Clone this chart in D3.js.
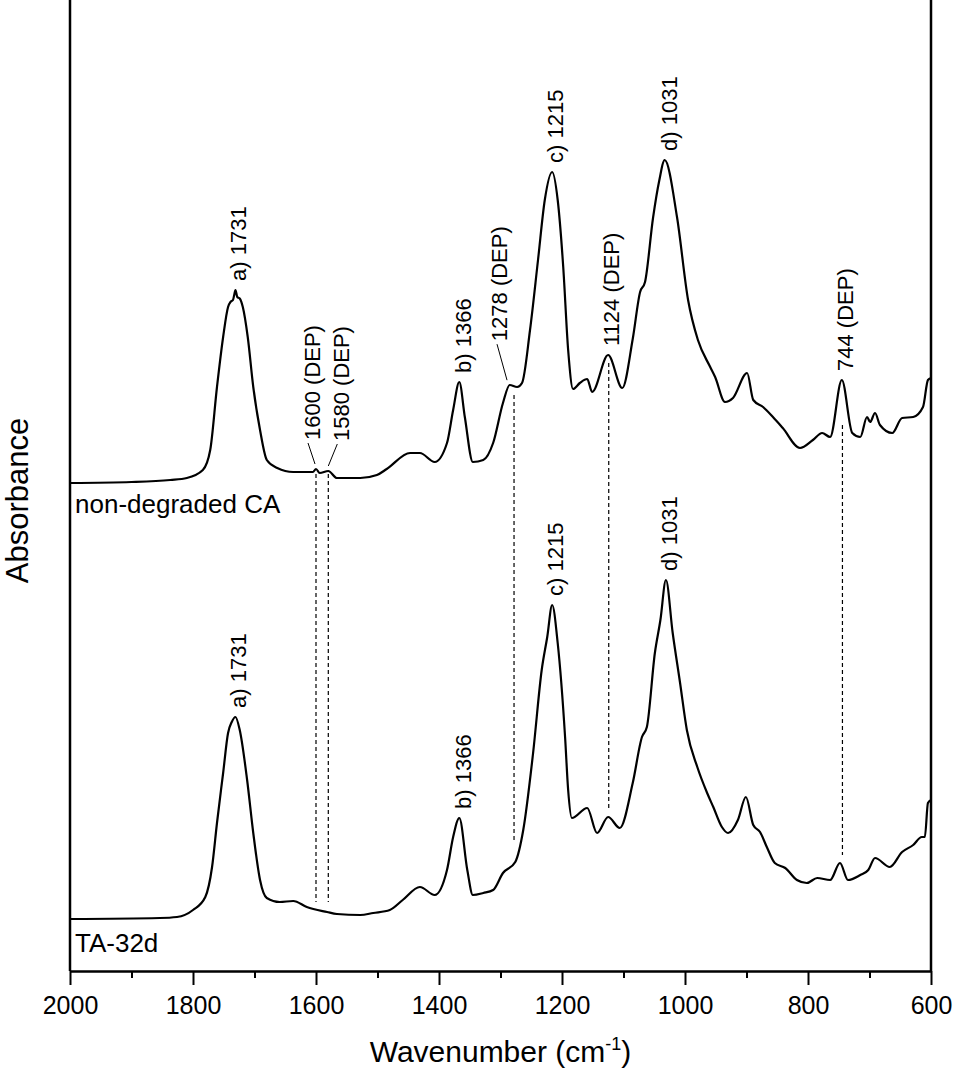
<!DOCTYPE html>
<html>
<head>
<meta charset="utf-8">
<script src="https://cdn.jsdelivr.net/npm/d3@7"></script>
<style>
  body { margin: 0; background: #fff; }
  text { font-family: "Liberation Sans", Arial, sans-serif; fill: #000; }
</style>
</head>
<body>
<div id="chart"></div>
<script>
// spectra (wavenumber in cm-1, absorbance in arbitrary stacked units)
var wnUpper = [2000, 1900, 1837, 1810, 1784, 1772, 1761, 1751, 1743, 1739, 1735, 1733, 1731, 1728, 1724, 1719, 1711, 1702, 1691, 1680,
  1663, 1637, 1605, 1600, 1594, 1580, 1566, 1528, 1501, 1485, 1447, 1431, 1407, 1387, 1377, 1367, 1358, 1345, 1328, 1312,
  1296, 1285, 1273, 1265, 1252, 1239, 1228, 1216, 1207, 1198, 1190, 1182, 1171, 1159, 1151, 1125, 1102, 1085, 1073, 1065,
  1052, 1042, 1033, 1013, 995, 979, 959, 951, 935, 922, 899, 889, 873, 857, 841, 813, 792, 777, 764, 745,
  728, 715, 704, 699, 691, 683, 663, 647, 629, 613, 605, 600];
var absUpper = [0.976, 0.978, 0.982, 0.986, 1.002, 1.042, 1.168, 1.268, 1.328, 1.338, 1.342, 1.352, 1.362, 1.348, 1.345, 1.328, 1.268, 1.168, 1.082, 1.022,
  1.006, 0.998, 0.998, 1.004, 0.996, 1.000, 0.986, 0.986, 0.992, 1.004, 1.036, 1.036, 1.018, 1.056, 1.122, 1.178, 1.108, 1.018, 1.022, 1.056,
  1.136, 1.172, 1.168, 1.176, 1.282, 1.422, 1.542, 1.598, 1.542, 1.408, 1.242, 1.164, 1.176, 1.184, 1.158, 1.232, 1.166, 1.264, 1.358, 1.378,
  1.506, 1.580, 1.622, 1.508, 1.342, 1.262, 1.208, 1.188, 1.138, 1.146, 1.196, 1.142, 1.128, 1.108, 1.086, 1.046, 1.062, 1.076, 1.068, 1.182,
  1.076, 1.068, 1.108, 1.098, 1.116, 1.092, 1.076, 1.106, 1.108, 1.128, 1.182, 1.186];

var wnLower = [2000, 1854, 1826, 1800, 1780, 1769, 1761, 1751, 1743, 1737, 1731, 1724, 1712, 1702, 1691, 1680, 1659, 1637, 1615, 1582,
  1566, 1528, 1507, 1480, 1459, 1431, 1407, 1387, 1377, 1367, 1354, 1345, 1328, 1312, 1296, 1276, 1263, 1247, 1233, 1224,
  1216, 1207, 1195, 1190, 1184, 1159, 1143, 1125, 1106, 1085, 1070, 1062, 1049, 1040, 1031, 1020, 1008, 997, 980, 964,
  954, 940, 930, 914, 901, 889, 878, 867, 854, 837, 818, 802, 785, 764, 748, 735, 715, 702, 691, 667,
  647, 629, 615, 610, 605, 600];
var absLower = [0.104, 0.106, 0.108, 0.122, 0.148, 0.208, 0.296, 0.396, 0.476, 0.498, 0.508, 0.482, 0.382, 0.276, 0.182, 0.146, 0.138, 0.140, 0.128, 0.118,
  0.114, 0.112, 0.116, 0.122, 0.142, 0.168, 0.152, 0.202, 0.268, 0.306, 0.202, 0.152, 0.156, 0.162, 0.196, 0.218, 0.282, 0.436, 0.602, 0.668,
  0.732, 0.656, 0.468, 0.362, 0.306, 0.326, 0.276, 0.308, 0.286, 0.376, 0.468, 0.488, 0.636, 0.702, 0.782, 0.676, 0.576, 0.482, 0.408, 0.356,
  0.328, 0.288, 0.276, 0.302, 0.348, 0.292, 0.278, 0.248, 0.216, 0.206, 0.182, 0.176, 0.186, 0.182, 0.216, 0.182, 0.192, 0.202, 0.226, 0.208,
  0.238, 0.252, 0.268, 0.268, 0.336, 0.342];

var seriesNames = ["non-degraded CA", "TA-32d"];

// peak annotations
var upperPeakText = ["a) 1731", "b) 1366", "c) 1215", "1124 (DEP)", "d) 1031", "744 (DEP)"];
var upperPeakWn = [1731, 1366, 1215, 1124, 1031, 744];
var lowerPeakText = ["a) 1731", "b) 1366", "c) 1215", "d) 1031"];
var lowerPeakWn = [1731, 1366, 1215, 1031];
var leaderText = ["1600 (DEP)", "1580 (DEP)", "1278 (DEP)"];
var leaderWn = [1600, 1580, 1278];

// dashed guide lines between the two spectra
var dashWn = [1600, 1580, 1278, 1124, 744];
var dashTop = [0.994, 0.994, 1.152, 1.216, 1.092];
var dashBottom = [0.138, 0.138, 0.256, 0.322, 0.232];

var majorTicks = [2000, 1800, 1600, 1400, 1200, 1000, 800, 600];
var minorTicks = [1900, 1700, 1500, 1300, 1100, 900, 700];

var svgWidth = 953;
var svgHeight = 1074;
var margin = { top: 0, right: 22, bottom: 103, left: 70 };
var width = svgWidth - margin.left - margin.right;
var height = svgHeight - margin.top - margin.bottom;

var svg = d3.select("#chart")
  .append("svg")
  .attr("width", svgWidth)
  .attr("height", svgHeight);

var chartGroup = svg.append("g")
  .attr("transform", `translate(${margin.left}, ${margin.top})`);

var x = d3.scaleLinear().domain([2000, 600]).range([0, width]);
var y = d3.scaleLinear().domain([0, 1.942]).range([height, 0]);

function valueAt(wns, vals, w) {
  for (var i = 0; i < wns.length - 1; i++) {
    if (w <= wns[i] && w >= wns[i + 1]) {
      var t = (wns[i] - w) / (wns[i] - wns[i + 1]);
      return vals[i] + t * (vals[i + 1] - vals[i]);
    }
  }
  return vals[vals.length - 1];
}

function peakNear(wns, vals, w) {
  var best = valueAt(wns, vals, w);
  wns.forEach(function(d, i) {
    if (Math.abs(d - w) <= 8 && vals[i] > best) best = vals[i];
  });
  return best;
}

var line = d3.line()
  .x(d => x(d[0]))
  .y(d => y(d[1]))
  .curve(d3.curveMonotoneX);

// dashed guides
dashWn.forEach(function(w, i) {
  chartGroup.append("line")
    .attr("x1", x(w)).attr("x2", x(w))
    .attr("y1", y(dashTop[i])).attr("y2", y(dashBottom[i]))
    .attr("stroke", "#000")
    .attr("stroke-width", 1.2)
    .attr("stroke-dasharray", "4,3");
});

// spectra
[[wnUpper, absUpper], [wnLower, absLower]].forEach(function(s) {
  chartGroup.append("path")
    .datum(d3.zip(s[0], s[1]))
    .attr("d", line)
    .attr("fill", "none")
    .attr("stroke", "#000")
    .attr("stroke-width", 2.2)
    .attr("stroke-linejoin", "round");
});

// rotated peak labels
function peakLabel(txt, px, py) {
  chartGroup.append("text")
    .attr("transform", `translate(${px}, ${py}) rotate(-90)`)
    .attr("dy", "0.35em")
    .attr("font-size", 22)
    .text(txt);
}

upperPeakText.forEach(function(t, i) {
  var w = upperPeakWn[i];
  peakLabel(t, x(w) + 3, y(peakNear(wnUpper, absUpper, w)) - 9);
});
lowerPeakText.forEach(function(t, i) {
  var w = lowerPeakWn[i];
  peakLabel(t, x(w) + 3, y(peakNear(wnLower, absLower, w)) - 9);
});

// labels with leader lines
var leaderLayout = [
  { x0: -1, y0: -5, x1: -8, y1: -26, lx: -4 },
  { x0: 0, y0: -5, x1: 9, y1: -27, lx: 13 },
  { x0: -7, y0: -6, x1: -17, y1: -42, lx: -15 }
];
leaderText.forEach(function(t, i) {
  var w = leaderWn[i];
  var px = x(w);
  var py = y(valueAt(wnUpper, absUpper, w));
  var L = leaderLayout[i];
  chartGroup.append("line")
    .attr("x1", px + L.x0).attr("y1", py + L.y0)
    .attr("x2", px + L.x1).attr("y2", py + L.y1)
    .attr("stroke", "#000")
    .attr("stroke-width", 1);
  peakLabel(t, px + L.lx, py + L.y1 - 3);
});

// series names
chartGroup.append("text")
  .attr("x", 5)
  .attr("y", y(absUpper[0]) + 30)
  .attr("font-size", 26)
  .text(seriesNames[0]);
chartGroup.append("text")
  .attr("x", 5)
  .attr("y", y(absLower[0]) + 33)
  .attr("font-size", 26)
  .text(seriesNames[1]);

// axes
var xAxis = chartGroup.append("g")
  .attr("transform", `translate(0, ${height})`)
  .call(d3.axisBottom(x).tickValues(majorTicks).tickSize(14).tickSizeOuter(0).tickPadding(11).tickFormat(d3.format("d")));
xAxis.select(".domain").attr("stroke-width", 2.5);
xAxis.selectAll(".tick line").attr("stroke-width", 2);
xAxis.selectAll(".tick text")
  .attr("font-size", 25)
  .attr("font-family", "Liberation Sans, Arial, sans-serif");

var xMinor = chartGroup.append("g")
  .attr("transform", `translate(0, ${height})`)
  .call(d3.axisBottom(x).tickValues(minorTicks).tickSize(7).tickSizeOuter(0).tickFormat(""));
xMinor.select(".domain").remove();
xMinor.selectAll(".tick line").attr("stroke-width", 2);

chartGroup.append("line")
  .attr("x1", 0).attr("x2", 0)
  .attr("y1", 0).attr("y2", height)
  .attr("stroke", "#000").attr("stroke-width", 2.5);
chartGroup.append("line")
  .attr("x1", width).attr("x2", width)
  .attr("y1", 0).attr("y2", height)
  .attr("stroke", "#000").attr("stroke-width", 2.5);

// axis titles
var xTitle = chartGroup.append("text")
  .attr("x", width / 2)
  .attr("y", height + 91)
  .attr("text-anchor", "middle")
  .attr("font-size", 30);
xTitle.append("tspan").text("Wavenumber (cm");
xTitle.append("tspan").attr("font-size", 18).attr("dy", -12).text("-1");
xTitle.append("tspan").attr("dy", 12).text(")");

svg.append("text")
  .attr("transform", `translate(28, ${height / 2 + 15}) rotate(-90)`)
  .attr("text-anchor", "middle")
  .attr("font-size", 31)
  .text("Absorbance");
</script>
</body>
</html>
